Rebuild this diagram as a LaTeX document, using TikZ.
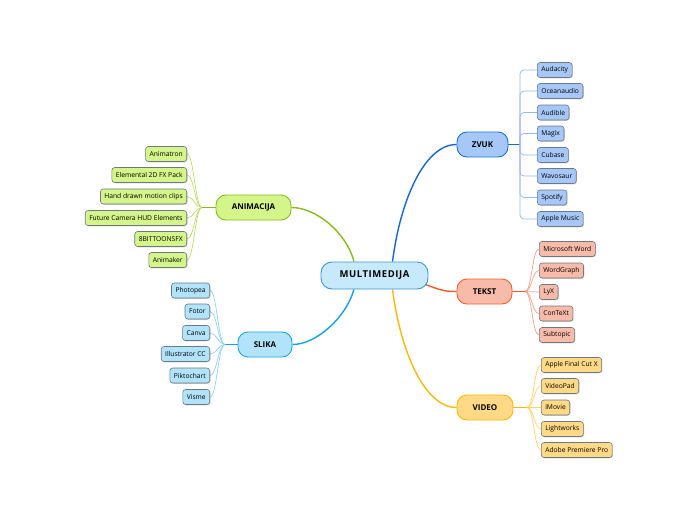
\documentclass[tikz,border=0pt]{standalone}
\usepackage{fontspec}
\setmainfont{Open Sans}
\newfontfamily\centralfont[LetterSpace=6]{Open Sans}
\usetikzlibrary{shadows,backgrounds}
\definecolor{cenF}{HTML}{C6EAFB}\definecolor{cenD}{HTML}{3D95D6}
\definecolor{zvF}{HTML}{A6C8F8}\definecolor{zvD}{HTML}{1C6FD9}\definecolor{zvC}{HTML}{1565D8}\definecolor{zvL}{HTML}{93B9F0}
\definecolor{teF}{HTML}{F8BBA9}\definecolor{teD}{HTML}{F0602E}\definecolor{teC}{HTML}{F05A28}\definecolor{teL}{HTML}{F6A088}
\definecolor{viF}{HTML}{FFD985}\definecolor{viD}{HTML}{F9B800}\definecolor{viC}{HTML}{FBB80A}\definecolor{viL}{HTML}{FFD266}
\definecolor{anF}{HTML}{D3F58A}\definecolor{anD}{HTML}{86BE1C}\definecolor{anC}{HTML}{86BC1A}\definecolor{anL}{HTML}{B8DE6A}
\definecolor{slF}{HTML}{B1E4FB}\definecolor{slD}{HTML}{19A5E8}\definecolor{slC}{HTML}{12A2E8}\definecolor{slL}{HTML}{90D2F3}
\definecolor{chD}{HTML}{6F7780}
\begin{document}
\begin{tikzpicture}[x=1pt,y=-1pt,
  central/.style={rounded corners=11pt, fill=cenF, draw=cenD, line width=0.9pt,
    minimum width=107pt, minimum height=27pt, inner sep=0pt,
    font=\centralfont\bfseries\fontsize{9.5}{11}\selectfont},
  maintopic/.style={rounded corners=10pt, line width=0.9pt, minimum height=25pt,
    inner sep=0pt, font=\bfseries\fontsize{8}{10}\selectfont},
  child/.style={rounded corners=2.8pt, draw=chD, line width=0.6pt, minimum height=15pt,
    inner xsep=4pt, inner ysep=0pt, font=\fontsize{6.7}{8}\selectfont,
    drop shadow={shadow xshift=0.8pt, shadow yshift=-0.8pt, fill=black, opacity=0.18}},
  mainline/.style={line width=1.4pt},
  trunk/.style={line width=1.2pt},
  twig/.style={line width=0.7pt}]
\useasboundingbox (0,0) rectangle (697,520);

\node[central] (m) at (374.5,275.5) {MULTIMEDIJA};
\node[maintopic, fill=zvF, draw=zvD, minimum width=51pt] (zvuk) at (482.5,144.5) {ZVUK};
\node[maintopic, fill=teF, draw=teD, minimum width=55pt] (tekst) at (484.5,291.5) {TEKST};
\node[maintopic, fill=viF, draw=viD, minimum width=56pt] (video) at (485,407.5) {VIDEO};
\node[maintopic, fill=anF, draw=anD, minimum width=75pt] (anim) at (253.5,207.5) {ANIMACIJA};
\node[maintopic, fill=slF, draw=slD, minimum width=54pt] (slika) at (265,344.5) {SLIKA};

\coordinate (zj) at (520,144.5);
\coordinate (tj) at (525,291.5);
\coordinate (vj) at (527,407.5);
\coordinate (aj) at (202,207.5);
\coordinate (sj) at (225,344.5);

\foreach \n/\y/\t in {za/70/Audacity, zb/91/Oceanaudio, zc/112.5/Audible, zd/133.5/Magix,
  ze/155/Cubase, zf/176/Wavosaur, zg/197.5/Spotify, zh/219/Apple Music}
  \node[child, fill=zvF, anchor=west] (\n) at (537,\y) {\t};
\foreach \n/\y/\t in {ta/249/Microsoft Word, tb/270.5/WordGraph, tc/292/LyX,
  td/313.5/ConTeXt, te/335/Subtopic}
  \node[child, fill=teF, anchor=west] (\n) at (539,\y) {\t};
\foreach \n/\y/\t in {va/365/Apple Final Cut X, vb/386/VideoPad, vc/407.5/iMovie,
  vd/429/Lightworks, ve/450/Adobe Premiere Pro}
  \node[child, fill=viF, anchor=west] (\n) at (541,\y) {\t};
\foreach \n/\y/\t in {aa/154/Animatron, ab/175/Elemental 2D FX Pack, ac/196.5/Hand drawn motion clips,
  ad/218/Future Camera HUD Elements, ae/239/8BITTOONSFX, af/260/Animaker}
  \node[child, fill=anF, anchor=east] (\n) at (187,\y) {\t};
\foreach \n/\y/\t in {sa/290.5/Photopea, sb/311.5/Fotor, sc/333/Canva,
  sd/354/Illustrator CC, se/375.5/Piktochart, sf/397/Visme}
  \node[child, fill=slF, anchor=east] (\n) at (210,\y) {\t};

\begin{scope}[on background layer]
  % main connectors
  \draw[mainline, zvC] ([xshift=18pt]m.north) .. controls +(8,-62) and +(-32,0) .. (zvuk.west);
  \draw[mainline, teC] ([xshift=-3pt,yshift=-9pt]m.east) .. controls +(14,5) and +(-14,0) .. (tekst.west);
  \draw[mainline, viC] ([xshift=18pt]m.south) .. controls +(8,62) and +(-32,0) .. (video.west);
  \draw[mainline, anC] ([xshift=-20.5pt]m.north) .. controls +(-8,-30) and +(24,0) .. (anim.east);
  \draw[mainline, slC] ([xshift=-20.5pt]m.south) .. controls +(-8,28) and +(24,0) .. (slika.east);
  % trunks
  \draw[trunk, zvC] (zvuk.east) -- (zj);
  \draw[trunk, teC] (tekst.east) -- (tj);
  \draw[trunk, viC] (video.east) -- (vj);
  \draw[trunk, anC] (anim.west) -- (aj);
  \draw[trunk, slC] (slika.west) -- (sj);
  % twigs
  \foreach \n in {za,zb,zc,zd,ze,zf,zg,zh}
    \draw[twig, zvL, rounded corners=4pt] (zj) |- (\n.west);
  \foreach \n in {ta,tb,tc,td,te}
    \draw[twig, teL] (tj) .. controls +(7,0) and +(-7,0) .. (\n.west);
  \foreach \n in {va,vb,vc,vd,ve}
    \draw[twig, viL] (vj) .. controls +(7,0) and +(-7,0) .. (\n.west);
  \foreach \n in {aa,ab,ac,ad,ae,af}
    \draw[twig, anL] (aj) .. controls +(-7,0) and +(7,0) .. (\n.east);
  \foreach \n in {sa,sb,sc,sd,se,sf}
    \draw[twig, slL] (sj) .. controls +(-7,0) and +(7,0) .. (\n.east);
\end{scope}
\end{tikzpicture}
\end{document}
